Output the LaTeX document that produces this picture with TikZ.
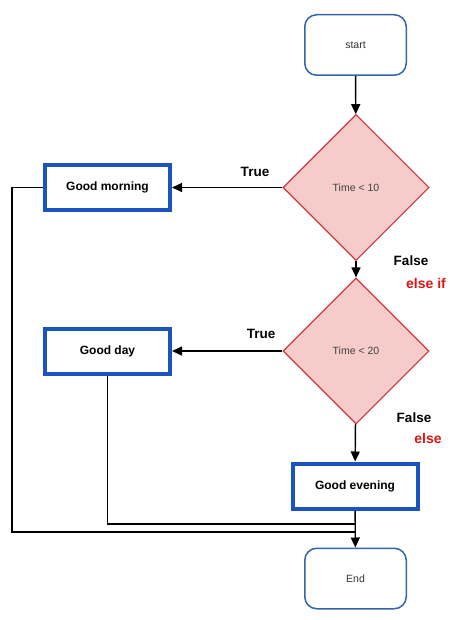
\documentclass[tikz,border=0pt]{standalone}
\usepackage{fontspec}
\setmainfont{Liberation Sans}
\usetikzlibrary{shapes.geometric,arrows.meta}
\usetikzlibrary{positioning}
\usetikzlibrary{calc}

\definecolor{boxblue}{RGB}{28,84,190}
\definecolor{termblue}{RGB}{52,100,170}
\definecolor{condfill}{RGB}{246,204,203}
\definecolor{condred}{RGB}{208,56,56}
\definecolor{labred}{RGB}{222,20,20}

\begin{document}
\begin{tikzpicture}[x=1pt,y=-1pt]

\tikzstyle{termBox}=[rectangle,rounded corners=12pt,align=center,minimum width=101.5pt,minimum height=60.5pt,draw=termblue,line width=1.5pt,fill=white,text=black!80,font=\fontsize{10.5pt}{12pt}\selectfont];
\tikzstyle{condBox}=[diamond,aspect=1,inner sep=0pt,minimum width=146pt,minimum height=146pt,draw=condred,line width=1.1pt,fill=condfill,text=black!75,font=\fontsize{10.5pt}{12pt}\selectfont];
\tikzstyle{outBox}=[rectangle,align=center,minimum width=125pt,minimum height=45pt,draw=boxblue,line width=4pt,fill=white,font=\bfseries\fontsize{12pt}{14pt}\selectfont];
\tikzstyle{arr}=[line width=1.4pt,-{Triangle[length=10pt,width=9pt]}];
\tikzstyle{ln}=[line width=1.4pt];
\tikzstyle{tLab}=[font=\bfseries\fontsize{13.5pt}{15pt}\selectfont];
\tikzstyle{rLab}=[font=\bfseries\fontsize{14pt}{16pt}\selectfont,text=labred];

\useasboundingbox (0,0) rectangle (474,620);

\node [termBox] (start) at (355.5,45) {start};
\node [condBox] (t10) at (356,187.5) {Time < 10};
\node [condBox] (t20) at (356,351) {Time < 20};
\node [outBox] (morning) at (107.5,187.5) {Good morning};
\node [outBox] (day) at (107.5,351) {Good day};
\node [outBox] (evening) at (355,486) {Good evening};
\node [termBox] (end) at (355.5,578.5) {End};

%\node [outBox, left=2.5cm of t10] (morning) {Good morning};

\draw [arr] (start) -- (t10);
\draw [arr] (t10) -- (morning);
\draw [arr] (t10) -- (t20);
\draw [arr] (t20) -- (day);
\draw [arr] (t20) -- (evening);
\draw [arr] (evening) -- (end);

\coordinate (lft) at (12,532);
\coordinate (join1) at (355,532);
\coordinate (join2) at (355,524);
\draw [ln] (morning.west) -| (lft) -- (join1);
\draw [ln] (day.south) |- (join2);

\node [tLab] (true1) at (255,172) {True};
\node [tLab] (true2) at (261,334) {True};
\node [tLab] (false1) at (411,261) {False};
\node [rLab] (elif) at (426,283) {else if};
\node [tLab] (false2) at (414,418) {False};
\node [rLab] (els) at (428,438) {else};

\end{tikzpicture}
\end{document}
